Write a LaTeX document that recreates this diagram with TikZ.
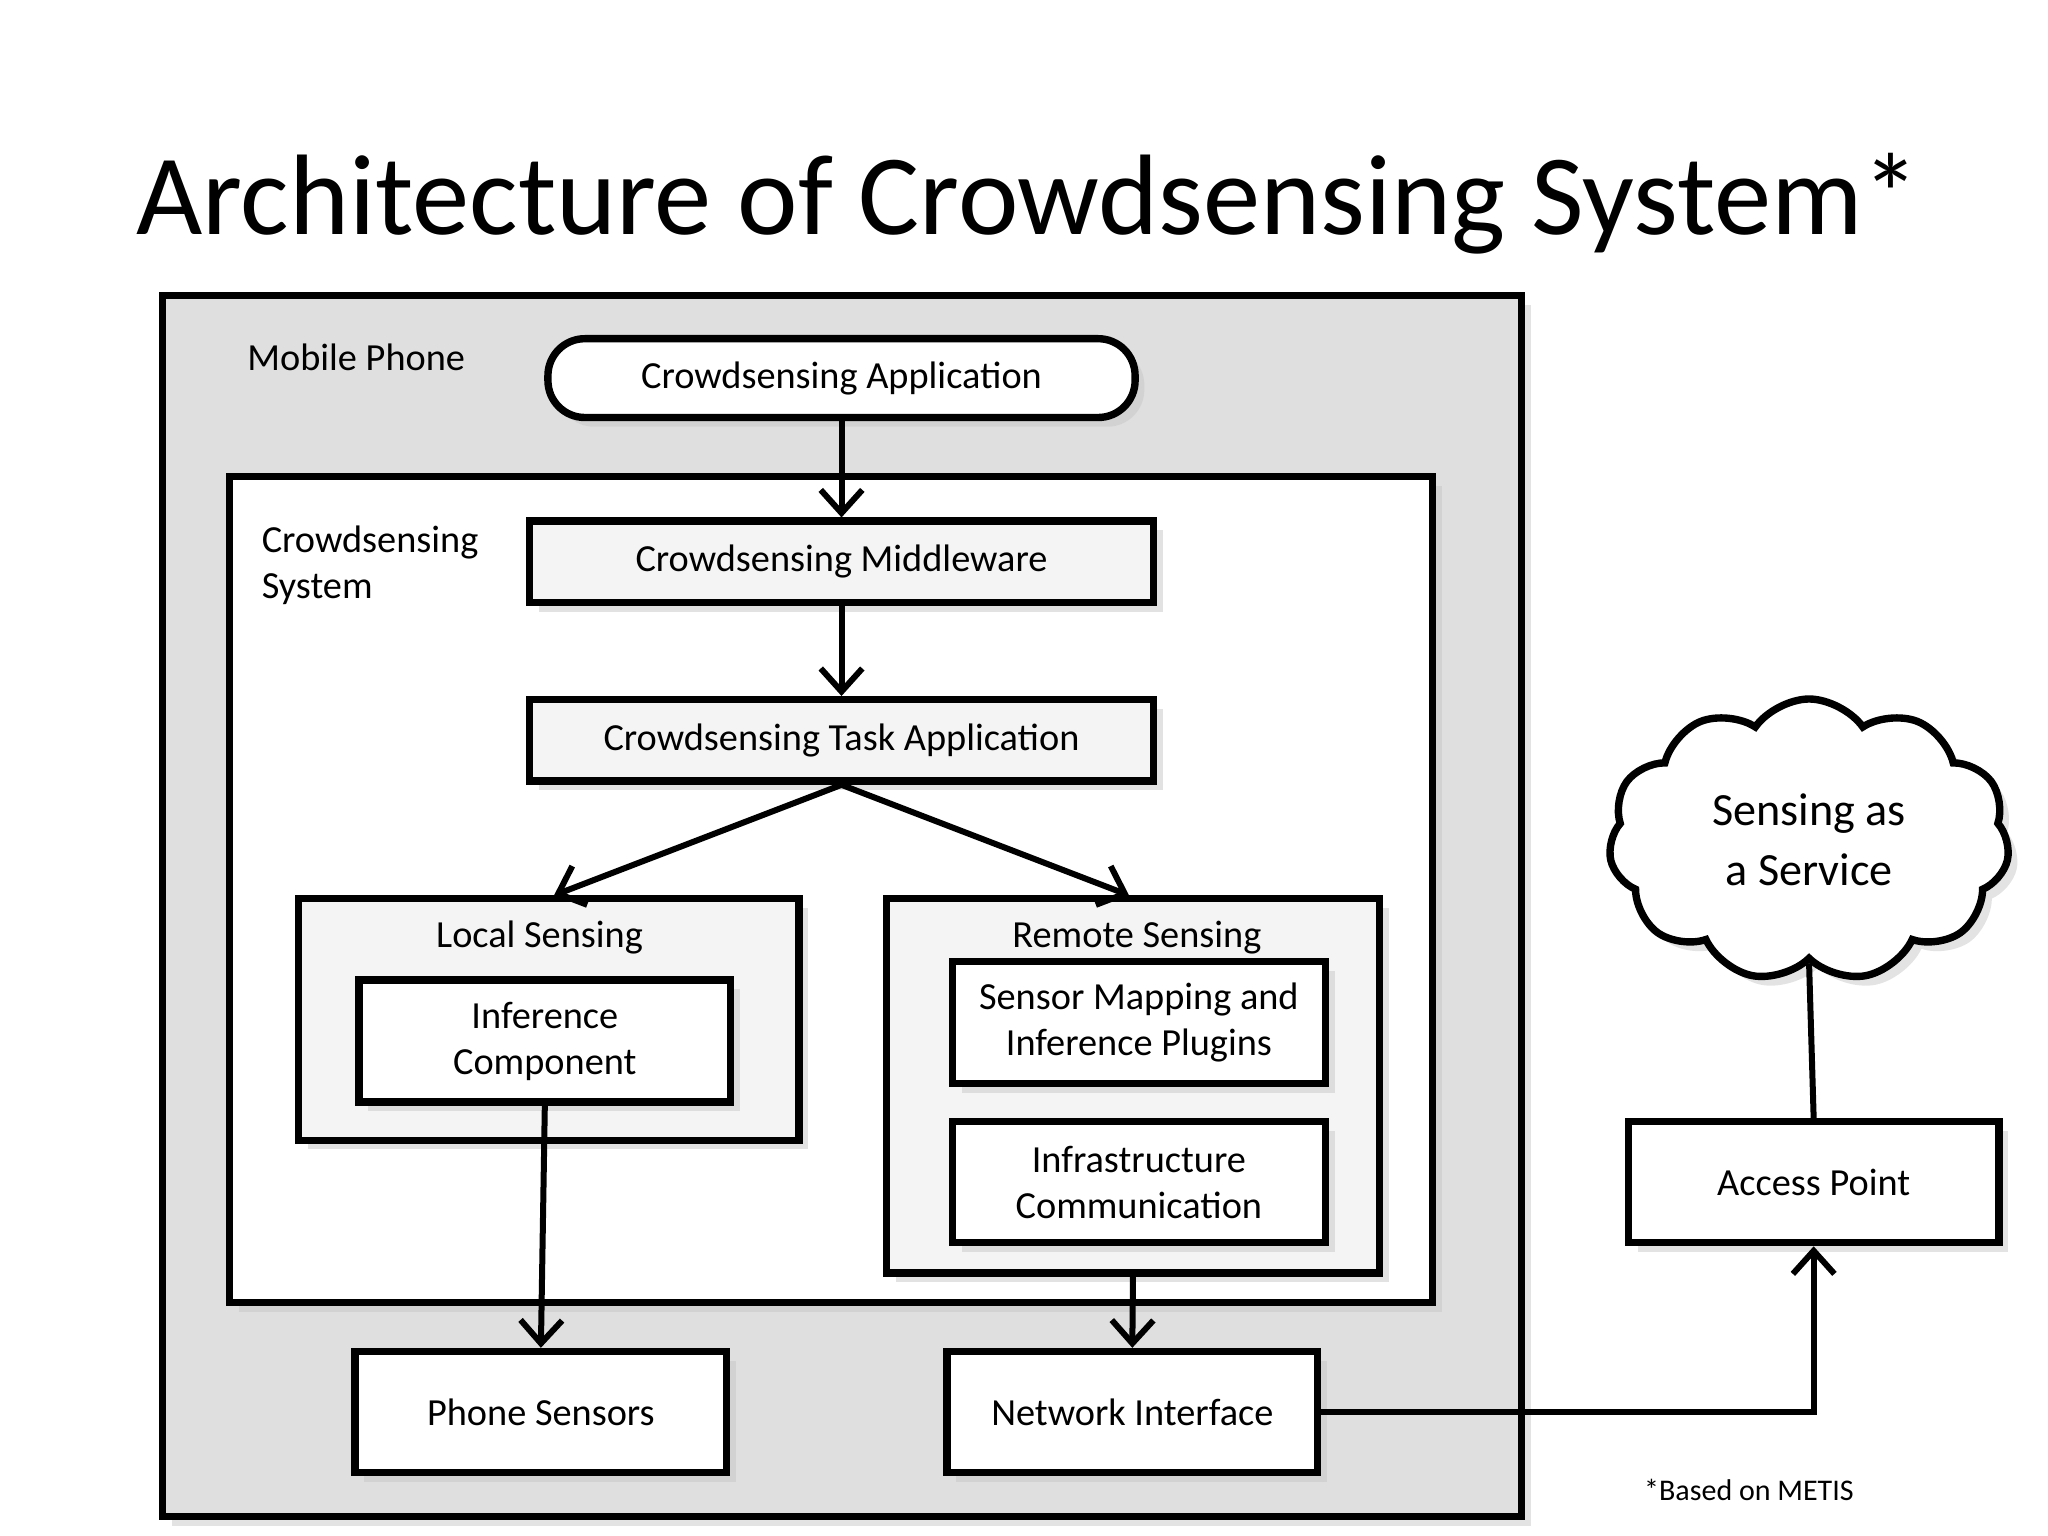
\documentclass[tikz,border=0pt]{standalone}
\usepackage{fontspec}
\setmainfont{Carlito}
\usetikzlibrary{positioning}
\usetikzlibrary{shapes.symbols}
\usetikzlibrary{shadows}
\usetikzlibrary{arrows.meta}
\tikzset{>={Straight Barb[length=5pt, width=9pt, line width=1.3pt]}}
\definecolor{phonegray}{HTML}{DFDFDF}
\definecolor{paleGray}{HTML}{F4F4F4}

\begin{document}
\begin{tikzpicture}[x=0.01cm, y=-0.01cm,
            shade/.style={drop shadow={shadow xshift=2pt, shadow yshift=-2pt, fill=black!22}},
            box/.style={draw, line width=1.6pt, fill=white, align=center, font=\fontsize{8.3pt}{10pt}\selectfont, shade},
            layer/.style={box, fill=paleGray},
            frame/.style={draw, line width=1.6pt, shade},
            conn/.style={->, line width=1.3pt}
        ]
            \useasboundingbox (0,0) rectangle (1560,1170);
            % title
            \node (title) at (783,155) {\fontsize{24.8pt}{28pt}\selectfont Architecture of Crowdsensing System*};
            % outer frames
            \draw[frame, fill=phonegray] (124,225) rectangle (1159,1155);
            \node[anchor=west, font=\fontsize{8.3pt}{10pt}\selectfont] (phone) at (176,272) {Mobile Phone};
            \draw[frame, fill=white] (175,363) rectangle (1091,992);
            \node[anchor=north west, align=left, font=\fontsize{8.3pt}{10pt}\selectfont] (csys) at (187,388) {Crowdsensing\\System};
            % boxes
            \node[box, rounded corners=8pt, minimum width=4.47cm, minimum height=0.6cm] (app) at (641,288) {Crowdsensing Application};
            \node[layer, minimum width=4.75cm, minimum height=0.62cm] (mid) at (641,428) {Crowdsensing Middleware};
            \node[layer, minimum width=4.75cm, minimum height=0.62cm] (task) at (641,564) {Crowdsensing Task Application};
            \node[layer, minimum width=3.81cm, minimum height=1.84cm] (local) at (418,776.5) {};
            \node[font=\fontsize{8.3pt}{10pt}\selectfont] (locallbl) at (411,714) {Local Sensing};
            \node[box, minimum width=2.83cm, minimum height=0.93cm] (infer) at (415,793) {Inference\\Component};
            \node[layer, minimum width=3.75cm, minimum height=2.85cm] (remote) at (863,827) {};
            \node[font=\fontsize{8.3pt}{10pt}\selectfont] (remotelbl) at (866,714) {Remote Sensing};
            \node[box, minimum width=2.84cm, minimum height=0.93cm] (plugins) at (867.5,779) {Sensor Mapping and\\Inference Plugins};
            \node[box, minimum width=2.84cm, minimum height=0.92cm] (infra) at (867.5,900.5) {Infrastructure\\Communication};
            \node[box, minimum width=2.83cm, minimum height=0.92cm] (sensors) at (412,1075.5) {Phone Sensors};
            \node[box, minimum width=2.82cm, minimum height=0.92cm] (net) at (862.5,1075.5) {Network Interface};
            \node[box, minimum width=2.82cm, minimum height=0.92cm] (ap) at (1381.5,900.5) {Access Point};
            \node[cloud, cloud puffs=11, cloud puff arc=110, aspect=1.4, draw, line width=1.6pt, fill=white,
                minimum width=3.05cm, minimum height=2.15cm, align=center, font=\fontsize{10pt}{13pt}\selectfont,
                shade] (saas) at (1378,640) {Sensing as\\a Service};
            \node[anchor=west, font=\fontsize{6.5pt}{8pt}\selectfont] (note) at (1240,1135) {*Based on METIS};
            % connectors
            \draw[conn] (app.south) -- (mid.north);
            \draw[conn] (mid.south) -- (task.north);
            \coordinate (lhit) at (422,682);
            \coordinate (rhit) at (860,682);
            \draw[conn] (task.south) -- (lhit);
            \draw[conn] (task.south) -- (rhit);
            \draw[conn] (infer.south) -- (sensors.north);
            \draw[conn] (remote.south) -- (net.north);
            \draw[conn] (net.east) -| (ap.south);
            \draw[line width=1.3pt] (saas.south) -- (ap.north);
        \end{tikzpicture}
\end{document}
